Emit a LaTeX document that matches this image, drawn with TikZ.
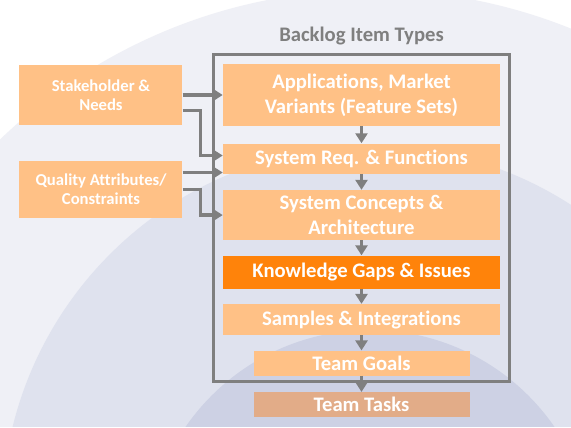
\documentclass[tikz,border=0pt]{standalone}
\usepackage{fontspec}
\setmainfont{Carlito}[Ligatures=NoCommon]
\usetikzlibrary{arrows.meta,positioning}
\definecolor{itemorange}{RGB}{255,193,134}
\definecolor{gapsorange}{RGB}{255,131,10}
\definecolor{taskbrown}{RGB}{226,172,136}
\definecolor{linegray}{RGB}{127,127,127}
\definecolor{bgouter}{RGB}{239,240,246}
\definecolor{bgmiddle}{RGB}{223,226,238}
\definecolor{bginner}{RGB}{205,209,228}

\begin{document}
\begin{tikzpicture}[x=0.75pt, y=-0.75pt,
    item/.style={draw=none, fill=itemorange, text=white, align=center,
      inner sep=0pt, minimum width=207.75pt,
      font=\fontsize{15.5}{18.75}\selectfont\bfseries},
    source/.style={draw=none, fill=itemorange, text=white, align=center,
      inner sep=0pt, minimum width=122.25pt,
      font=\fontsize{12.5}{14.5}\selectfont\bfseries},
    flow/.style={draw=linegray, line width=2.6pt,
      -{Triangle[width=9pt,length=7.5pt]}}]
      \useasboundingbox (0,0) rectangle (571,428);
      % Background arcs
      \fill[white] (0,0) rectangle (571,428);
      \begin{scope}
        \clip (0,0) rectangle (571,426);
        \fill[bgouter] (371,525) circle[radius=535];
        \fill[bgmiddle] (371,515) circle[radius=369];
        \fill[bginner] (370,554) circle[radius=224];
      \end{scope}
      % Add the backlog frame
      \node[draw=linegray,
        line width=2.25pt,
        minimum width=222pt,
        minimum height=245.25pt] (frame) at (361.5,218) {};
      \node[anchor=base,
        text=linegray,
        font=\fontsize{15.5}{18}\selectfont\bfseries] (title)
        at ([yshift=8.5pt]frame.north) {Backlog Item Types};
      % Add the item types
      \node[item,
        minimum height=46.5pt] (app) at (361.5,95)
        {Applications, Market\\Variants (Feature Sets)};
      \node[item,
        below=12.75pt of app,
        minimum height=22.5pt] (sysreq) {System Req. \& Functions};
      \node[item,
        below=12pt of sysreq,
        minimum height=37.5pt] (concepts) {System Concepts \&\\Architecture};
      \node[item,
        below=11.25pt of concepts,
        fill=gapsorange,
        minimum height=24.75pt] (gaps) {Knowledge Gaps \& Issues};
      \node[item,
        below=11.25pt of gaps,
        minimum height=23.25pt] (samples) {Samples \& Integrations};
      \node[item,
        below=11.25pt of samples,
        minimum width=162pt,
        minimum height=18.75pt] (goals) {Team Goals};
      \node[item,
        below=12pt of goals,
        fill=taskbrown,
        minimum width=162pt,
        minimum height=18.75pt] (tasks) {Team Tasks};
      % Add the sources
      \node[source,
        left=30pt of app,
        minimum height=44.25pt] (stake) {Stakeholder \&\\Needs};
      \node[source,
        below=27pt of stake,
        minimum height=42.75pt] (quality) {Quality Attributes/\\Constraints};
      % Connect the item types
      \draw[flow] (app) -- (sysreq);
      \draw[flow] (sysreq) -- (concepts);
      \draw[flow] (concepts) -- (gaps);
      \draw[flow] (gaps) -- (samples);
      \draw[flow] (samples) -- (goals);
      \draw[flow] (goals) -- (tasks);
      % Connect the sources
      \draw[flow] (stake.east) -- (stake.east -| app.west);
      \draw[flow] ([yshift=-11.6pt]stake.east) -- ++(13.5pt,0)
        |- ([yshift=2.25pt]sysreq.west);
      \draw[flow] ([yshift=12.75pt]quality.east)
        -- ([yshift=12.75pt]quality.east -| sysreq.west);
      \draw[flow] (quality.east) -- ++(13.5pt,0) |- (concepts.west);
    \end{tikzpicture}
\end{document}
